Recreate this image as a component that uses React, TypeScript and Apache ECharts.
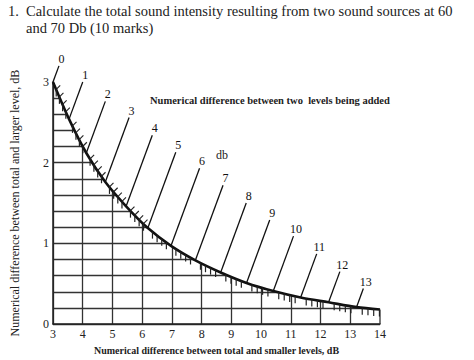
import React, { useEffect, useRef } from 'react';
import * as echarts from 'echarts';

// Curve: label points for level differences 0..13 plus the end point at x = 14
const dbSteps = [0, 1, 2, 3, 4, 5, 6, 7, 8, 9, 10, 11, 12, 13];
const curveX = [3.0, 3.54, 4.12, 4.76, 5.46, 6.19, 6.97, 7.79, 8.64, 9.51, 10.41, 11.33, 12.27, 13.21, 14.0];
const curveY = [3.0, 2.54, 2.12, 1.76, 1.46, 1.19, 0.97, 0.79, 0.64, 0.51, 0.41, 0.33, 0.27, 0.21, 0.18];
// y value at the upper end of each labelled line (lines follow constant level difference)
const lineTopY = [3.2, 3.0, 2.76, 2.56, 2.34, 2.13, 1.93, 1.72, 1.5, 1.29, 1.09, 0.87, 0.65, 0.44];
const xTickValues = [3, 4, 5, 6, 7, 8, 9, 10, 11, 12, 13, 14];
const yTickLabels = [0, 1, 2, 3];

const titleLine1 = 'Calculate the total sound intensity resulting from two sound sources at 60';
const titleLine2 = 'and 70 Db (10 marks)';
const xName = 'Numerical difference between total and smaller levels, dB';
const yName = 'Numerical difference between total and larger level, dB';
const innerNote = 'Numerical difference between two  levels being added';
const unitNote = 'db';

const SERIF = '"Liberation Serif", "DejaVu Serif", serif';

export default function App() {
  const ref = useRef<HTMLDivElement>(null);
  useEffect(() => {
    if (!ref.current) return;
    const chart = echarts.init(ref.current, undefined, { renderer: 'svg' });

    // graduation marks every 0.2 of level difference between the read curve points
    const diffs = curveX.map((x, i) => x - curveY[i]);
    const tickData: number[][] = [];
    for (let k = 1; k < 70; k++) {
      if (k % 5 === 0) continue;
      const d = k / 5;
      for (let i = 0; i < diffs.length - 1; i++) {
        if (d >= diffs[i] && d <= diffs[i + 1]) {
          const t = (d - diffs[i]) / (diffs[i + 1] - diffs[i]);
          tickData.push([
            curveX[i] + t * (curveX[i + 1] - curveX[i]),
            curveY[i] + t * (curveY[i + 1] - curveY[i]),
            d,
          ]);
          break;
        }
      }
    }

    const lineData = dbSteps.map((d, i) => [curveX[i], curveY[i], d + lineTopY[i], lineTopY[i], d]);
    const last = curveX.length - 1;

    chart.setOption({
      animation: false,
      backgroundColor: '#fff',
      grid: { left: 53, right: 94, top: 82, bottom: 32 },
      xAxis: {
        type: 'value',
        min: xTickValues[0],
        max: xTickValues[xTickValues.length - 1],
        interval: 1,
        name: xName,
        nameLocation: 'middle',
        nameGap: 17,
        nameTextStyle: { fontFamily: SERIF, fontSize: 10, fontWeight: 'bold', color: '#222' },
        axisLine: { show: true, lineStyle: { color: '#222', width: 1.5 } },
        axisTick: { show: false },
        axisLabel: { fontFamily: SERIF, fontSize: 12, color: '#222', margin: 4 },
        splitLine: { show: true, showMaxLine: false, lineStyle: { color: '#333', width: 1.3 } },
      },
      yAxis: {
        type: 'value',
        min: 0,
        max: yTickLabels[yTickLabels.length - 1],
        interval: 0.2,
        name: yName,
        nameLocation: 'middle',
        nameGap: 32,
        nameTextStyle: { fontFamily: SERIF, fontSize: 12, color: '#222' },
        axisLine: { show: true, lineStyle: { color: '#222', width: 1.5 } },
        axisTick: { show: false },
        axisLabel: {
          fontFamily: SERIF,
          fontSize: 12,
          color: '#222',
          margin: 4,
          showMaxLabel: true,
          formatter: (v: number) => {
            const r = Math.round(v);
            return Math.abs(v - r) < 1e-6 && yTickLabels.indexOf(r) >= 0 ? String(r) : '';
          },
        },
        splitLine: { show: true, showMaxLine: false, lineStyle: { color: '#333', width: 1.3 } },
      },
      graphic: [
        { type: 'text', z: 20, left: 8, top: 3, style: { text: '1.', fontFamily: SERIF, fontSize: 14.5, fill: '#222' } },
        { type: 'text', z: 20, left: 26, top: 3, style: { text: titleLine1, fontFamily: SERIF, fontSize: 14.5, fill: '#222' } },
        { type: 'text', z: 20, left: 26, top: 20, style: { text: titleLine2, fontFamily: SERIF, fontSize: 14.5, fill: '#222' } },
        { type: 'text', z: 20, left: 150, top: 95, style: { text: innerNote, fontFamily: SERIF, fontSize: 10.5, fontWeight: 'bold', fill: '#222' } },
        { type: 'text', z: 20, left: 216, top: 149, style: { text: unitNote, fontFamily: SERIF, fontSize: 12, fill: '#222' } },
      ],
      series: [
        {
          type: 'line',
          data: curveX.map((x, i) => [x, curveY[i]]),
          smooth: 0.3,
          showSymbol: false,
          lineStyle: { color: '#111', width: 2.6 },
          areaStyle: { color: '#fff', opacity: 1, origin: 'end' },
          z: 3,
        },
        {
          // right border of the grid, from the axis up to the curve end
          type: 'custom',
          clip: false,
          z: 4,
          encode: { x: 0, y: 1 },
          data: [[curveX[last], curveY[last]]],
          renderItem: (_p: any, api: any) => {
            const top = api.coord([api.value(0), api.value(1)]);
            const bottom = api.coord([api.value(0), 0]);
            return {
              type: 'line',
              shape: { x1: top[0], y1: top[1], x2: bottom[0], y2: bottom[1] },
              style: { stroke: '#333', lineWidth: 1.3 },
            };
          },
        },
        {
          type: 'custom',
          clip: false,
          z: 4,
          encode: { x: 0, y: 1 },
          data: tickData,
          renderItem: (_p: any, api: any) => {
            const p = api.coord([api.value(0), api.value(1)]);
            const d = api.value(2);
            const children: any[] = [
              {
                type: 'line',
                shape: { x1: p[0], y1: p[1], x2: p[0], y2: p[1] + 7 },
                style: { stroke: '#222', lineWidth: 1.2 },
              },
            ];
            if (d < 5) {
              children.push({
                type: 'line',
                shape: { x1: p[0], y1: p[1], x2: p[0] + 4, y2: p[1] - 4 },
                style: { stroke: '#222', lineWidth: 1.1 },
              });
            }
            return { type: 'group', children };
          },
        },
        {
          type: 'custom',
          clip: false,
          z: 5,
          encode: { x: 0, y: 1 },
          data: lineData,
          renderItem: (_p: any, api: any) => {
            const p1 = api.coord([api.value(0), api.value(1)]);
            const p2 = api.coord([api.value(2), api.value(3)]);
            return {
              type: 'group',
              children: [
                {
                  type: 'line',
                  shape: { x1: p1[0], y1: p1[1], x2: p2[0], y2: p2[1] },
                  style: { stroke: '#111', lineWidth: 1.3 },
                },
                {
                  type: 'text',
                  x: p2[0] + 2.5,
                  y: p2[1] - 1,
                  style: {
                    text: String(api.value(4)),
                    fontFamily: SERIF,
                    fontSize: 12,
                    fill: '#111',
                    align: 'center',
                    verticalAlign: 'bottom',
                  },
                },
              ],
            };
          },
        },
      ],
    });
    return () => chart.dispose();
  }, []);
  return <div ref={ref} style={{ position: 'absolute', left: 0, top: 0, width: 474, height: 360 }} />;
}
